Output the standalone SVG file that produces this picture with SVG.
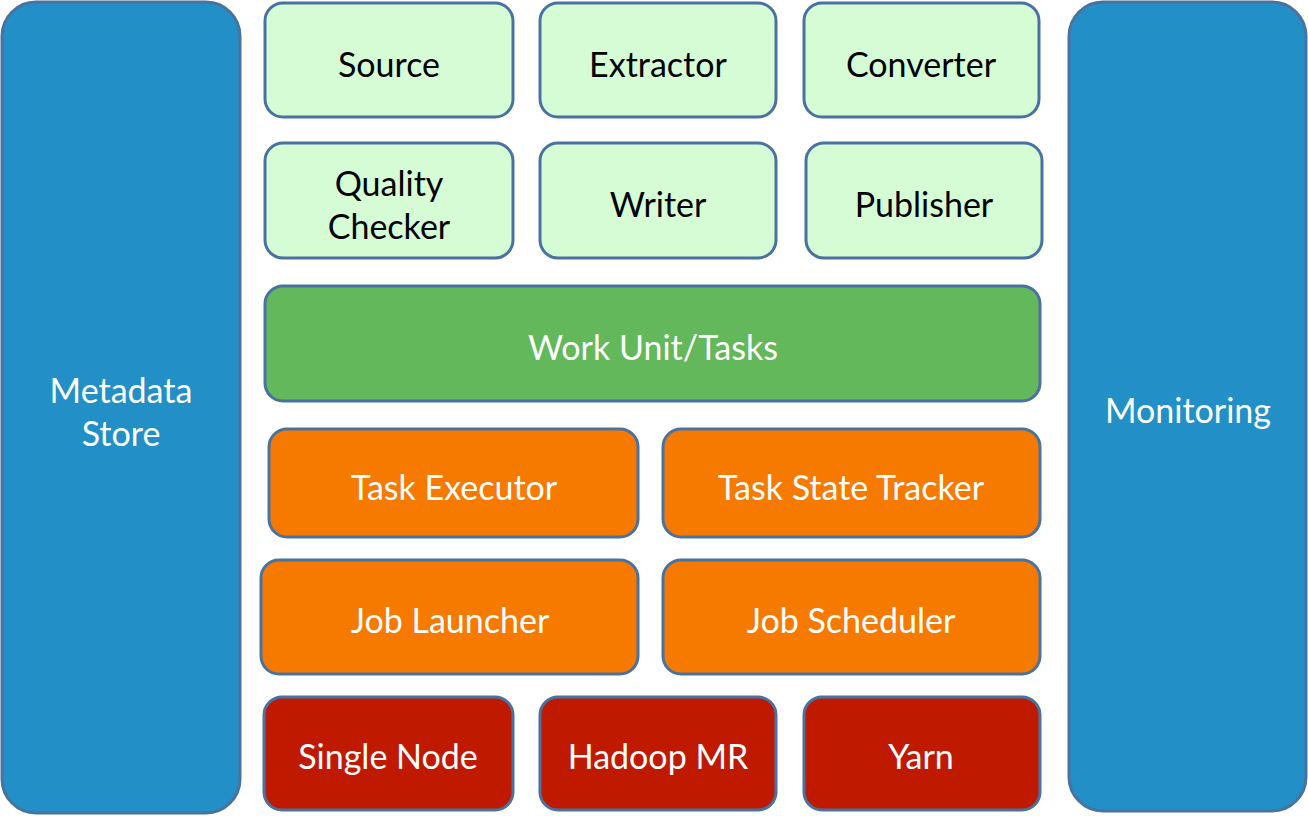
<svg xmlns="http://www.w3.org/2000/svg" width="1308" height="816" viewBox="0 0 1308 816">
<style>
rect{stroke:#4A72A0;stroke-width:3}
.side{fill:#2290C6}
.lg{fill:#D5FCD5}
.gr{fill:#62B85A}
.or{fill:#F77A00}
.rd{fill:#BF1A00}
text{font-family:Lato,"Open Sans","Liberation Sans",sans-serif;font-size:34px;text-anchor:middle;dominant-baseline:central}
.dk{fill:#000}
.wt{fill:#fff}
</style>
<rect width="1308" height="816" fill="#fff" style="stroke:none"/>
<g id="metadata"><rect class="side" x="2" y="2" width="238" height="811" rx="34"/><text class="wt" x="121" y="389">Metadata</text><text class="wt" x="121" y="432">Store</text></g>
<g id="monitoring"><rect class="side" x="1069" y="2" width="237" height="809" rx="34"/><text class="wt" x="1188" y="409">Monitoring</text></g>
<g id="source"><rect class="lg" x="265" y="3" width="248" height="114" rx="18"/><text class="dk" x="389" y="63">Source</text></g>
<g id="extractor"><rect class="lg" x="540" y="3" width="236" height="114" rx="18"/><text class="dk" x="658" y="63">Extractor</text></g>
<g id="converter"><rect class="lg" x="804" y="3" width="235" height="114" rx="18"/><text class="dk" x="921" y="63">Converter</text></g>
<g id="quality"><rect class="lg" x="265" y="143" width="248" height="115" rx="18"/><text class="dk" x="389" y="182">Quality</text><text class="dk" x="389" y="225">Checker</text></g>
<g id="writer"><rect class="lg" x="540" y="143" width="236" height="115" rx="18"/><text class="dk" x="658" y="203">Writer</text></g>
<g id="publisher"><rect class="lg" x="806" y="143" width="236" height="115" rx="18"/><text class="dk" x="924" y="203">Publisher</text></g>
<g id="workunit"><rect class="gr" x="265" y="286" width="775" height="115" rx="18"/><text class="wt" x="653" y="346">Work Unit/Tasks</text></g>
<g id="taskexec"><rect class="or" x="269" y="429" width="369" height="108" rx="18"/><text class="wt" x="454" y="486">Task Executor</text></g>
<g id="tasktracker"><rect class="or" x="663" y="429" width="377" height="108" rx="18"/><text class="wt" x="851" y="486">Task State Tracker</text></g>
<g id="joblauncher"><rect class="or" x="261" y="560" width="377" height="114" rx="18"/><text class="wt" x="450" y="619">Job Launcher</text></g>
<g id="jobscheduler"><rect class="or" x="663" y="560" width="377" height="114" rx="18"/><text class="wt" x="851" y="619">Job Scheduler</text></g>
<g id="single"><rect class="rd" x="264" y="697" width="249" height="113" rx="18"/><text class="wt" x="388" y="755">Single Node</text></g>
<g id="hadoop"><rect class="rd" x="540" y="697" width="236" height="113" rx="18"/><text class="wt" x="658" y="755">Hadoop MR</text></g>
<g id="yarn"><rect class="rd" x="804" y="697" width="236" height="113" rx="18"/><text class="wt" x="921" y="755">Yarn</text></g>
<g id="connectors"/>
</svg>
